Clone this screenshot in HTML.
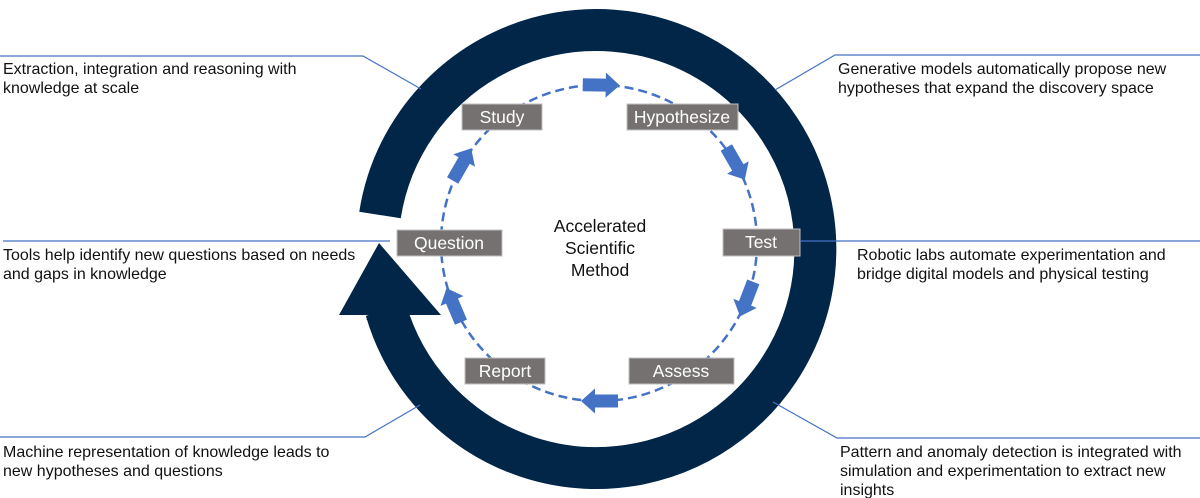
<!DOCTYPE html>
<html><head><meta charset="utf-8"><style>
body{margin:0;width:1200px;height:498px;background:#fff;overflow:hidden}
svg{display:block}
text{font-family:"Liberation Sans",sans-serif}
</style></head><body>
<svg width="1200" height="498" viewBox="0 0 1200 498">
<path d="M380,215 A219,219 0 1 1 386,310" fill="none" stroke="#022648" stroke-width="42"/>
<polygon points="379,243 441,315 339,315" fill="#022648"/>
<path d="M386,308 L405,320 L366,320 Z" fill="#022648"/>
<circle cx="599" cy="243" r="158" fill="none" stroke="#4472c4" stroke-width="2.5" stroke-dasharray="9,5"/>
<g fill="#4472c4">
<g transform="translate(599,243) rotate(-89) translate(158,0) rotate(90)"><polygon points="-19,-6.5 4,-6.5 4,-12.5 18,0 4,12.5 4,6.5 -19,6.5"/></g>
<g transform="translate(599,243) rotate(-30) translate(158,0) rotate(90)"><polygon points="-19,-6.5 4,-6.5 4,-12.5 18,0 4,12.5 4,6.5 -19,6.5"/></g>
<g transform="translate(599,243) rotate(21) translate(158,0) rotate(90)"><polygon points="-19,-6.5 4,-6.5 4,-12.5 18,0 4,12.5 4,6.5 -19,6.5"/></g>
<g transform="translate(599,243) rotate(90) translate(158,0) rotate(90)"><polygon points="-19,-6.5 4,-6.5 4,-12.5 18,0 4,12.5 4,6.5 -19,6.5"/></g>
<g transform="translate(599,243) rotate(157) translate(158,0) rotate(90)"><polygon points="-19,-6.5 4,-6.5 4,-12.5 18,0 4,12.5 4,6.5 -19,6.5"/></g>
<g transform="translate(599,243) rotate(210) translate(158,0) rotate(90)"><polygon points="-19,-6.5 4,-6.5 4,-12.5 18,0 4,12.5 4,6.5 -19,6.5"/></g>
</g>
<g fill="#757171" stroke="#bfbfbf" stroke-width="1">
<rect x="462" y="104" width="80" height="26"/>
<rect x="627" y="104" width="111" height="26"/>
<rect x="723" y="229" width="77" height="27"/>
<rect x="629" y="358" width="105" height="26"/>
<rect x="465" y="358" width="80" height="26"/>
<rect x="397" y="230" width="105" height="26"/>
</g>
<g fill="#fff" font-size="17.5" text-anchor="middle">
<text x="502" y="123">Study</text>
<text x="682" y="123">Hypothesize</text>
<text x="761" y="248">Test</text>
<text x="681" y="377">Assess</text>
<text x="505" y="377">Report</text>
<text x="449" y="249">Question</text>
</g>
<g fill="#111" font-size="17.5" text-anchor="middle">
<text x="600" y="232">Accelerated</text>
<text x="600" y="254">Scientific</text>
<text x="600" y="276">Method</text>
</g>
<g fill="none" stroke="#4472c4" stroke-width="1.2">
<polyline points="0,56 363,56 421,89"/>
<polyline points="3,241 390,241"/>
<polyline points="0,437 365,437 420,405"/>
<polyline points="775,90 835,55 1200,55"/>
<polyline points="800,241 1200,241"/>
<polyline points="773,402 837,438 1200,438"/>
</g>
<g fill="#111" font-size="16">
<text x="3" y="74">Extraction, integration and reasoning with</text>
<text x="3" y="93">knowledge at scale</text>
<text x="3" y="260">Tools help identify new questions based on needs</text>
<text x="3" y="279">and gaps in knowledge</text>
<text x="3" y="457">Machine representation of knowledge leads to</text>
<text x="3" y="476">new hypotheses and questions</text>
<text x="838" y="74">Generative models automatically propose new</text>
<text x="838" y="93">hypotheses that expand the discovery space</text>
<text x="857" y="260">Robotic labs automate experimentation and</text>
<text x="857" y="279">bridge digital models and physical testing</text>
<text x="840" y="457">Pattern and anomaly detection is integrated with</text>
<text x="840" y="476">simulation and experimentation to extract new</text>
<text x="840" y="495">insights</text>
</g>
</svg>
</body></html>
